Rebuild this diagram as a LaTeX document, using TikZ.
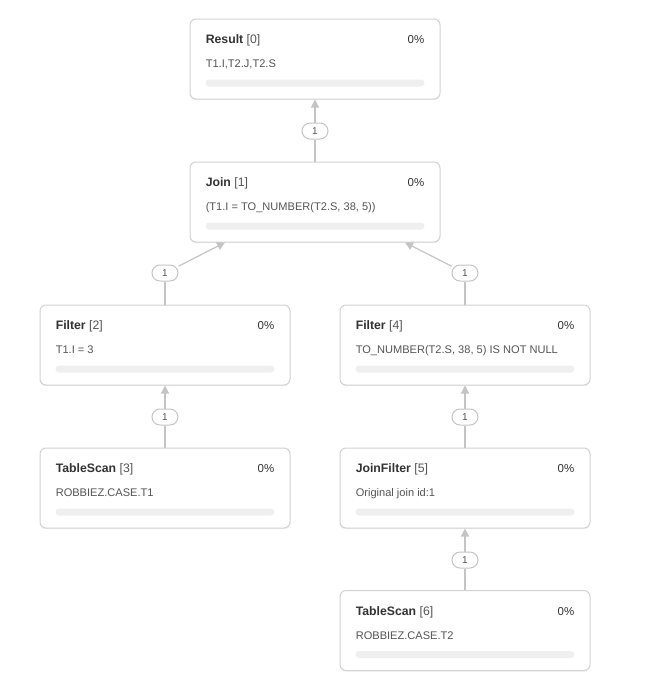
\documentclass[tikz,border=0pt]{standalone}
\usepackage{fontspec}
\setmainfont{Liberation Sans}
\usepackage{tikz}
\usetikzlibrary{arrows.meta,calc,shadows}
\definecolor{edgegray}{HTML}{C4C4C4}
\definecolor{boxgray}{HTML}{D2D2D2}
\definecolor{bargray}{HTML}{EFEFEF}
\definecolor{ttlgray}{HTML}{333333}
\definecolor{txtgray}{HTML}{555555}

\begin{document}
\begin{tikzpicture}[x=0.75pt,y=-0.75pt,
	opbox/.style={draw=boxgray, fill=white, rounded corners=4.5pt, line width=0.75pt,
		minimum width=187.5pt, minimum height=60pt,
		drop shadow={shadow xshift=0pt, shadow yshift=-0.9pt, opacity=0.12}},
	cnt/.style={draw=edgegray, fill=white, rounded corners=6pt, line width=0.75pt, inner sep=0pt,
		minimum width=19.5pt, minimum height=12pt, text=txtgray, font=\fontsize{7.5}{8}\selectfont},
	ln/.style={color=edgegray, line width=0.9pt},
	arr/.style={ln, -{Triangle[width=6pt,length=6pt,color=edgegray]}}]
	\useasboundingbox (0,0) rectangle (653,689);
%
	\node[opbox] (R0) at (315,59) {};
	\node[opbox] (J1) at (315,202) {};
	\node[opbox] (F2) at (165,345) {};
	\node[opbox] (F4) at (465,345) {};
	\node[opbox] (T3) at (165,488) {};
	\node[opbox] (J5) at (465,488) {};
	\node[opbox] (T6) at (465,630.5) {};
%
	\foreach \n/\t/\i/\d in {R0/Result/0/{T1.I,T2.J,T2.S},
		J1/Join/1/{(T1.I = TO\_NUMBER(T2.S, 38, 5))},
		F2/Filter/2/{T1.I = 3},
		F4/Filter/4/{TO\_NUMBER(T2.S, 38, 5) IS NOT NULL},
		T3/TableScan/3/{ROBBIEZ.CASE.T1},
		J5/JoinFilter/5/{Original join id:1},
		T6/TableScan/6/{ROBBIEZ.CASE.T2}}{
		\node[anchor=base west, inner sep=0pt, text=ttlgray, font=\fontsize{9.2}{10}\selectfont] (\n-t)
			at ($(\n.north west)+(16,25)$) {\textbf{\t} \textcolor{txtgray}{[\i]}};
		\node[anchor=base east, inner sep=0pt, text=ttlgray, font=\fontsize{8.6}{10}\selectfont] (\n-p)
			at ($(\n.north east)+(-16,25)$) {0\%};
		\node[anchor=base west, inner sep=0pt, text=txtgray, font=\fontsize{8.3}{10}\selectfont] (\n-d)
			at ($(\n.north west)+(16,49)$) {\d};
		\fill[bargray, rounded corners=2.6pt] ($(\n.north west)+(16,61)$) rectangle ($(\n.north east)+(-16,68)$);
	}
%
	\coordinate (jl) at ($(J1.south)+(-90,0)$);
	\coordinate (jr) at ($(J1.south)+(90,0)$);
	\node[cnt] (c0) at (315,131) {1};
	\node[cnt] (c1) at (165,273) {1};
	\node[cnt] (c2) at (465,273) {1};
	\node[cnt] (c3) at (165,417) {1};
	\node[cnt] (c4) at (465,417) {1};
	\node[cnt] (c5) at (465,560) {1};
%
	\draw[ln] (J1) -- (c0);
	\draw[ln] (F2) -- (c1);
	\draw[ln] (F4) -- (c2);
	\draw[ln] (T3) -- (c3);
	\draw[ln] (J5) -- (c4);
	\draw[ln] (T6) -- (c5);
%
	\draw[arr] (c0) -- (R0);
	\draw[arr] (c1) -- (jl);
	\draw[arr] (c2) -- (jr);
	\draw[arr] (c3) -- (F2);
	\draw[arr] (c4) -- (F4);
	\draw[arr] (c5) -- (J5);
\end{tikzpicture}
\end{document}
